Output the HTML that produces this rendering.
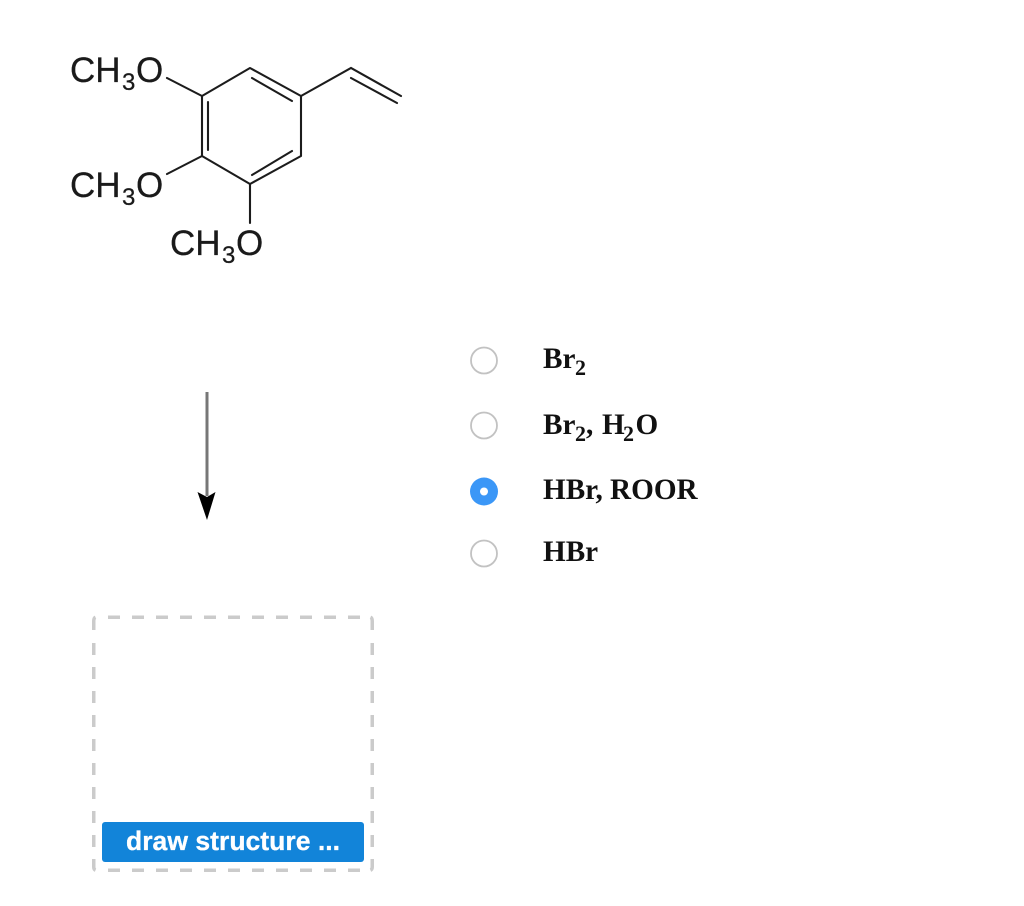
<!DOCTYPE html>
<html>
<head>
<meta charset="utf-8">
<style>
html,body{margin:0;padding:0;background:#fff;width:1024px;height:906px;overflow:hidden}
svg{display:block}
.mol{font-family:"Liberation Sans",sans-serif;font-size:35px;fill:#1a1a1a;stroke:#1a1a1a;stroke-width:.25px}
.sub{font-size:24px}
.opt{font-family:"Liberation Serif",serif;font-weight:bold;font-size:29.2px;fill:#111}
.s2{font-size:22px}
</style>
</head>
<body>
<svg width="1024" height="906" viewBox="0 0 1024 906" xmlns="http://www.w3.org/2000/svg">
<g stroke="#1c1c1c" stroke-width="2.1" fill="none" stroke-linecap="round">
<path d="M250 68L301 96L301 156L250 184L202 156L202 96Z" stroke-linejoin="round"/>
<path d="M252 78L292 101M208 102L208 150M252 175L292 151"/>
<path d="M301 96L351 68L401 96M351 78L397 103"/>
<path d="M167 78L202 96M167 174L202 156M250 184L250 223"/>
</g>
<text class="mol" x="70" y="82">CH</text><text class="mol sub" x="122" y="90">3</text><text class="mol" x="136" y="82">O</text>
<text class="mol" x="70" y="197">CH</text><text class="mol sub" x="122" y="205">3</text><text class="mol" x="136" y="197">O</text>
<text class="mol" x="170" y="255">CH</text><text class="mol sub" x="222" y="263">3</text><text class="mol" x="236" y="255">O</text>

<line x1="207" y1="392" x2="207" y2="496" stroke="#777" stroke-width="3"/>
<path d="M197.500 492L207 497L215.500 492L207 520Z" fill="#000"/>

<g fill="#fff" stroke="#c2c2c2" stroke-width="1.8">
<circle cx="484" cy="360.500" r="13"/>
<circle cx="484" cy="425.500" r="13"/>
<circle cx="484" cy="553.500" r="13"/>
</g>
<circle cx="484" cy="491.500" r="14" fill="#3b97f7"/>
<circle cx="484" cy="491.500" r="4" fill="#fff"/>

<text class="opt" x="543" y="368">Br</text><text class="opt s2" x="575" y="375">2</text>
<text class="opt" x="543" y="434">Br</text><text class="opt s2" x="575" y="441">2</text><text class="opt" x="586" y="434">,</text><text class="opt" x="602" y="434">H</text><text class="opt s2" x="623" y="441">2</text><text class="opt" x="635.500" y="434">O</text>
<text class="opt" x="543" y="499">HBr, ROOR</text>
<text class="opt" x="543" y="561">HBr</text>

<g fill="#cbcbcb">
<rect x="108" y="615.500" width="12" height="3.500"/><rect x="132" y="615.500" width="12" height="3.500"/><rect x="156" y="615.500" width="12" height="3.500"/><rect x="180" y="615.500" width="12" height="3.500"/><rect x="204" y="615.500" width="12" height="3.500"/><rect x="228" y="615.500" width="12" height="3.500"/><rect x="252" y="615.500" width="12" height="3.500"/><rect x="276" y="615.500" width="12" height="3.500"/><rect x="300" y="615.500" width="12" height="3.500"/><rect x="324" y="615.500" width="12" height="3.500"/><rect x="348" y="615.500" width="12" height="3.500"/>
<rect x="108" y="868.500" width="12" height="3.500"/><rect x="132" y="868.500" width="12" height="3.500"/><rect x="156" y="868.500" width="12" height="3.500"/><rect x="180" y="868.500" width="12" height="3.500"/><rect x="204" y="868.500" width="12" height="3.500"/><rect x="228" y="868.500" width="12" height="3.500"/><rect x="252" y="868.500" width="12" height="3.500"/><rect x="276" y="868.500" width="12" height="3.500"/><rect x="300" y="868.500" width="12" height="3.500"/><rect x="324" y="868.500" width="12" height="3.500"/><rect x="348" y="868.500" width="12" height="3.500"/>
<rect x="92" y="643" width="3.500" height="12"/><rect x="92" y="667" width="3.500" height="12"/><rect x="92" y="691" width="3.500" height="12"/><rect x="92" y="715" width="3.500" height="12"/><rect x="92" y="739" width="3.500" height="12"/><rect x="92" y="763" width="3.500" height="12"/><rect x="92" y="787" width="3.500" height="12"/><rect x="92" y="811" width="3.500" height="12"/><rect x="92" y="835" width="3.500" height="12"/>
<rect x="370.500" y="643" width="3.500" height="12"/><rect x="370.500" y="667" width="3.500" height="12"/><rect x="370.500" y="691" width="3.500" height="12"/><rect x="370.500" y="715" width="3.500" height="12"/><rect x="370.500" y="739" width="3.500" height="12"/><rect x="370.500" y="763" width="3.500" height="12"/><rect x="370.500" y="787" width="3.500" height="12"/><rect x="370.500" y="811" width="3.500" height="12"/><rect x="370.500" y="835" width="3.500" height="12"/>
</g>
<g stroke="#cbcbcb" stroke-width="3.500" fill="none">
<path d="M93.750 630V621Q93.750 618 95.500 617.250"/>
<path d="M372.250 630V621Q372.250 618 370.500 617.250"/>
<path d="M93.750 859V867Q93.750 869.500 95.500 870.250"/>
<path d="M372.250 859V867Q372.250 869.500 370.500 870.250"/>
</g>

<rect x="102" y="822" width="262" height="40" rx="3" fill="#1284d9"/>
<text x="233" y="850" text-anchor="middle" font-family="'Liberation Sans',sans-serif" font-weight="bold" font-size="27" fill="#fff" stroke="#fff" stroke-width=".3" textLength="214" lengthAdjust="spacingAndGlyphs">draw structure ...</text>
</svg>
</body>
</html>
